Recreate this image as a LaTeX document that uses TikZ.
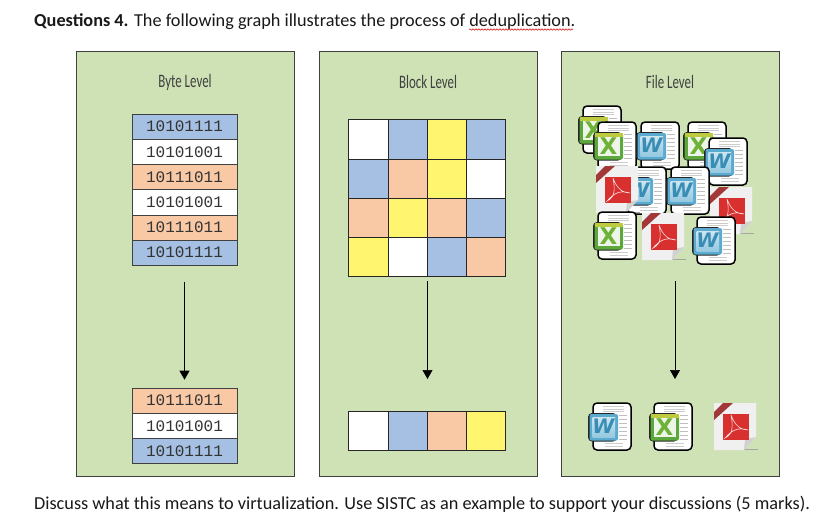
\documentclass[tikz,border=0pt]{standalone}
\usepackage{fontspec}
\setmainfont{Carlito}
\newfontfamily\bitfont{Liberation Mono}
\newfontfamily\iconfont{DejaVu Sans}
\usepackage{tikz}
\usetikzlibrary{decorations,decorations.pathmorphing,arrows.meta}
\definecolor{panelgreen}{HTML}{CEE2B6}
\definecolor{cellblue}{HTML}{A5C0E2}
\definecolor{cellorange}{HTML}{F9C8A4}
\definecolor{cellyellow}{HTML}{FFF56E}
\definecolor{wordblue}{HTML}{3E9CC8}
\definecolor{exgreen}{HTML}{5DA83C}
\definecolor{pdfred}{HTML}{D8302F}
\tikzset{
    panelbox/.style={draw=black!75, fill=panelgreen, line width=0.7pt},
    bitrow/.style={draw=black!75, line width=0.6pt, minimum width=105pt, minimum height=25.2pt, inner sep=0pt, font=\bitfont\fontsize{16}{16}\selectfont, text=black!80},
    cellbox/.style={draw=black!85, line width=1pt, minimum size=39.25pt, inner sep=0pt},
    paneltitle/.style={font=\fontsize{19}{20}\selectfont, text=black!75, inner sep=0pt},
    plaintext/.style={font=\fontsize{18.25}{20}\selectfont, anchor=base west, inner sep=0pt, text=black!90},
    flowarrow/.style={draw=black, line width=0.7pt, -{Triangle[length=9pt,width=10pt]}},
    pics/docpage/.style={code={
        \draw[black, line width=1.5pt, fill=white, rounded corners=4pt] (0,0) rectangle (38,47);
        \foreach \y in {3.5,6,8.5}{
            \draw[black!20, line width=0.6pt] (10,\y)--(31,\y);
        }
        \foreach \y in {12,16,...,36}{
            \draw[black!25, line width=0.7pt] (26,\y)--(34,\y);
        }
        \foreach \y in {40,43}{
            \draw[black!20, line width=0.6pt] (12,\y)--(30,\y);
        }
    }},
    pics/wordicon/.style={code={
        \pic {docpage};
        \fill[black!85, rounded corners=4pt] (-5,10) rectangle (24,38.5);
        \fill[wordblue!85!white, rounded corners=2pt] (-3.5,11) rectangle (25,37.5);
        \shade[top color=white!75!wordblue, bottom color=white!45!wordblue] (-0.5,14) rectangle (22,34);
        \node[inner sep=0pt, text=wordblue!90!black, font=\iconfont\bfseries\itshape\fontsize{20}{20}\selectfont] (wordmark) at (10.5,23.5) {W};
    }},
    pics/excelicon/.style={code={
        \pic {docpage};
        \fill[black!85, rounded corners=4pt] (-5,10) rectangle (24,38.5);
        \fill[exgreen, rounded corners=2pt] (-3.5,11) rectangle (25,37.5);
        \fill[yellow!55!exgreen] (-3.5,11) rectangle (25,15);
        \fill[white!88!exgreen] (-0.5,15) rectangle (22,34);
        \node[inner sep=0pt, text=exgreen!90!yellow, font=\iconfont\bfseries\fontsize{23}{23}\selectfont] (excelmark) at (10.5,24) {X};
    }},
    pics/pdficon/.style={code={
        \fill[black!35] (8,45.5) rectangle (44,47);
        \fill[black!6] (0,0)--(42,0)--(42,34)--(30,47)--(0,47)--cycle;
        \fill[black!18] (42,34)--(31,36)--(30,47)--cycle;
        \fill[pdfred] (9,11) rectangle (35,37);
        \draw[white!85!pdfred, line width=0.6pt] (17,12) .. controls (21,32) and (14,33) .. (11,35)
            .. controls (18,27) and (24,24) .. (34,27) .. controls (27,27) and (21,23) .. (17,12);
        \fill[pdfred!70!black!90] (0,9)--(9,0)--(19,0)--(0,17)--cycle;
    }}
}
\begin{document}
\begin{tikzpicture}[x=1pt,y=-1pt]
    \useasboundingbox (0,0) rectangle (836,531);
    \fill[white] (0,0) rectangle (836,531);
    % heading and closing line
    \node[plaintext] (heading) at (34,26) {\textbf{Questions 4.} The following graph illustrates the process of deduplication.};
    \node[plaintext] (closing) at (34,509) {Discuss what this means to virtualization. Use SISTC as an example to support your discussions (5 marks).};
    \draw[red!85!black, line width=0.5pt, decorate, decoration={snake, amplitude=0.7pt, segment length=3pt}] (469,29.5)--(573,29.5);
    % panels
    \foreach \x/\name/\txt in {76/bytepanel/Byte Level, 319/blockpanel/Block Level, 561/filepanel/File Level}{
        \draw[panelbox] (\x,51) rectangle (\x+218,476);
        \node[paneltitle] (\name) at (\x+109,82) {\scalebox{0.68}[1]{\txt}};
    }
    % byte level
    \foreach \i/\c/\bits in {0/cellblue/10101111, 1/white/10101001, 2/cellorange/10111011, 3/white/10101001, 4/cellorange/10111011, 5/cellblue/10101111}{
        \node[bitrow, fill=\c] (byte\i) at (184.5,126.6+25.2*\i) {\bits};
    }
    \foreach \i/\c/\bits in {0/cellorange/10111011, 1/white/10101001, 2/cellblue/10101111}{
        \node[bitrow, fill=\c] (bytelow\i) at (184.5,400.6+25.2*\i) {\bits};
    }
    \draw[flowarrow, shorten <=16pt, shorten >=8pt] (byte5)--(bytelow0);
    % block level
    \foreach \y/\row in {0/{white,cellblue,cellyellow,cellblue}, 1/{cellblue,cellorange,cellyellow,white}, 2/{cellorange,cellyellow,cellorange,cellblue}, 3/{cellyellow,white,cellblue,cellorange}}{
        \foreach \c [count=\x from 0] in \row {
            \node[cellbox, fill=\c] (block\x\y) at (368.6+39.25*\x,139.6+39.25*\y) {};
        }
    }
    \foreach \c [count=\x from 0] in {white,cellblue,cellorange,cellyellow}{
        \node[cellbox, fill=\c] (blocklow\x) at (368.6+39.25*\x,431) {};
    }
    \coordinate (blocktop) at (427.5,281);
    \coordinate (blockend) at (427.5,379);
    \draw[flowarrow] (blocktop)--(blockend);
    % file level
    \pic (excela) at (583,106) {excelicon};
    \pic (excelb) at (598,122) {excelicon};
    \pic (worda) at (641,122) {wordicon};
    \pic (excelc) at (688,122) {excelicon};
    \pic (pdfa) at (710,187) {pdficon};
    \pic (wordb) at (709,138) {wordicon};
    \pic (wordc) at (628,167) {wordicon};
    \pic (pdfb) at (596,166) {pdficon};
    \pic (wordd) at (671,167) {wordicon};
    \pic (exceld) at (598,212) {excelicon};
    \pic (pdfc) at (642,213) {pdficon};
    \pic (worde) at (697,217) {wordicon};
    \pic (wordlow) at (593,403) {wordicon};
    \pic (excellow) at (654,403) {excelicon};
    \pic (pdflow) at (714,403) {pdficon};
    \coordinate (filetop) at (675,281);
    \coordinate (fileend) at (675,379);
    \draw[flowarrow] (filetop)--(fileend);
\end{tikzpicture}
\end{document}
